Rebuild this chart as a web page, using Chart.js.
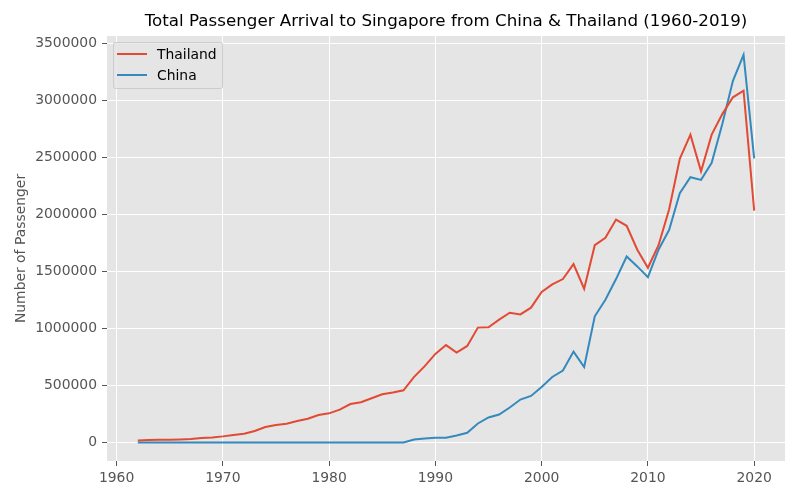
<!DOCTYPE html>
<html>
<head>
<meta charset="utf-8">
<script src="https://cdn.jsdelivr.net/npm/chart.js@4.4.1/dist/chart.umd.min.js"></script>
<style>
  html, body { margin: 0; padding: 0; background: #fff; }
  #wrap { width: 800px; height: 500px; }
</style>
</head>
<body>
<div id="wrap"><canvas id="chart" width="800" height="500"></canvas></div>
<script>
const years = [
  1962, 1963, 1964, 1965, 1966, 1967, 1968, 1969, 1970, 1971,
  1972, 1973, 1974, 1975, 1976, 1977, 1978, 1979, 1980, 1981,
  1982, 1983, 1984, 1985, 1986, 1987, 1988, 1989, 1990, 1991,
  1992, 1993, 1994, 1995, 1996, 1997, 1998, 1999, 2000, 2001,
  2002, 2003, 2004, 2005, 2006, 2007, 2008, 2009, 2010, 2011,
  2012, 2013, 2014, 2015, 2016, 2017, 2018, 2019, 2020,
];

const thailand = [
  17600, 20500, 23500, 23500, 26000, 29000, 38000, 44000, 53000, 64500,
  76000, 100000, 135000, 152000, 164000, 188000, 208000, 240000, 255000, 287000,
  337000, 352000, 387000, 422000, 437000, 457000, 575000, 669000, 776000, 854000,
  788000, 846000, 1007000, 1010000, 1077000, 1138000, 1123000, 1182000, 1319000, 1386000,
  1433000, 1564000, 1348000, 1730000, 1795000, 1955000, 1900000, 1690000, 1532000, 1730000,
  2045000, 2487000, 2700000, 2378000, 2700000, 2880000, 3027000, 3085000, 2034000,
];

const china = [
  0, 0, 0, 0, 0, 0, 0, 0, 0, 0,
  0, 0, 0, 0, 0, 0, 0, 0, 0, 0,
  0, 0, 0, 0, 0, 0, 26000, 35000, 40000, 42000,
  61000, 84000, 166000, 219000, 245000, 306000, 376000, 408000, 487000, 574000,
  630000, 797000, 662000, 1106000, 1252000, 1433000, 1631000, 1544000, 1450000, 1690000,
  1865000, 2186000, 2326000, 2303000, 2452000, 2793000, 3172000, 3400000, 2492000,
];

const xTicks = [1960, 1970, 1980, 1990, 2000, 2010, 2020];
const yTicks = [0, 500000, 1000000, 1500000, 2000000, 2500000, 3000000, 3500000];

const FONT = 'DejaVu Sans';
const RED = '#E24A33';
const BLUE = '#348ABD';

// grey panel behind the plot, like the ggplot style
const panelBg = {
  id: 'panelBg',
  beforeDraw(chart) {
    const { ctx, chartArea: a } = chart;
    ctx.save();
    ctx.fillStyle = '#E5E5E5';
    ctx.fillRect(a.left, a.top, a.right - a.left, a.bottom - a.top);
    ctx.restore();
  },
};

// legend box drawn inside the plot, upper left
const innerLegend = {
  id: 'innerLegend',
  afterDatasetsDraw(chart) {
    const { ctx, chartArea: a } = chart;
    const x0 = a.left + 6, y0 = a.top + 6, w = 109, h = 46;
    ctx.save();
    ctx.beginPath();
    ctx.roundRect(x0 + 0.5, y0 + 0.5, w, h, 2);
    ctx.fillStyle = 'rgba(229,229,229,0.8)';
    ctx.fill();
    ctx.strokeStyle = '#CCCCCC';
    ctx.lineWidth = 1;
    ctx.stroke();
    ctx.font = `13.9px "${FONT}"`;
    ctx.textBaseline = 'middle';
    chart.data.datasets.forEach((ds, i) => {
      const y = y0 + 12 + i * 21;
      ctx.beginPath();
      ctx.moveTo(x0 + 4, y);
      ctx.lineTo(x0 + 34, y);
      ctx.strokeStyle = ds.borderColor;
      ctx.lineWidth = 2;
      ctx.stroke();
      ctx.fillStyle = '#000';
      ctx.fillText(ds.label, x0 + 44, y + 1);
    });
    ctx.restore();
  },
};

const fixedTicks = (values) => (scale) => {
  scale.ticks = values.map(v => ({ value: v }));
};

new Chart(document.getElementById('chart'), {
  type: 'line',
  data: {
    datasets: [
      {
        label: 'Thailand',
        data: years.map((y, i) => ({ x: y, y: thailand[i] })),
        borderColor: RED,
        borderWidth: 2,
        pointRadius: 0,
        tension: 0,
        fill: false,
      },
      {
        label: 'China',
        data: years.map((y, i) => ({ x: y, y: china[i] })),
        borderColor: BLUE,
        borderWidth: 2,
        pointRadius: 0,
        tension: 0,
        fill: false,
      },
    ],
  },
  options: {
    responsive: false,
    animation: false,
    layout: { padding: { left: 0, right: 15, top: 0, bottom: 0 } },
    plugins: {
      legend: { display: false },
      title: { display: false },
      tooltip: { enabled: false },
    },
    scales: {
      x: {
        type: 'linear',
        position: 'bottom',
        min: 1959.1,
        max: 2022.9,
        afterBuildTicks: fixedTicks(xTicks),
        afterFit: (s) => { s.height = 39; s.paddingLeft = 0; s.paddingRight = 0; },
        border: { display: false },
        grid: { color: '#FFFFFF', lineWidth: 1, tickColor: '#555555', tickLength: 5 },
        ticks: {
          color: '#555555',
          font: { family: FONT, size: 13.9 },
          padding: 4,
          maxRotation: 0,
          autoSkip: false,
          callback: (v) => String(v),
        },
      },
      top: {
        type: 'linear',
        position: 'top',
        min: 1959.1,
        max: 2022.9,
        afterFit: (s) => { s.height = 36; },
        border: { display: false },
        grid: { display: false, drawTicks: false },
        ticks: { display: false },
        title: {
          display: true,
          text: 'Total Passenger Arrival to Singapore from China & Thailand (1960-2019)',
          color: '#000000',
          font: { family: FONT, size: 16.7 },
          padding: { top: 12, bottom: 0 },
        },
      },
      y: {
        type: 'linear',
        min: -163000,
        max: 3565000,
        afterBuildTicks: fixedTicks(yTicks),
        afterFit: (s) => { s.width = 107; s.paddingTop = 0; s.paddingBottom = 0; },
        border: { display: false },
        grid: { color: '#FFFFFF', lineWidth: 1, tickColor: '#555555', tickLength: 5 },
        ticks: {
          color: '#555555',
          font: { family: FONT, size: 13.9 },
          padding: 5,
          autoSkip: false,
          callback: (v) => String(v),
        },
        title: {
          display: true,
          text: 'Number of Passenger',
          color: '#555555',
          font: { family: FONT, size: 13.9 },
          padding: { top: 13, bottom: 0 },
        },
      },
    },
  },
  plugins: [panelBg, innerLegend],
});
</script>
</body>
</html>
